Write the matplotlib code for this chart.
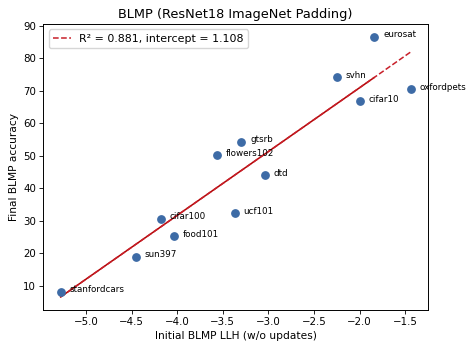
import numpy as np
import matplotlib
matplotlib.use("Agg")
import matplotlib.pyplot as plt

# Initial LLH vs final accuracy per dataset
datasets = ["stanfordcars", "sun397", "cifar100", "food101", "flowers102", "ucf101",
            "gtsrb", "dtd", "svhn", "cifar10", "eurosat", "oxfordpets"]
init_llh = [-5.28, -4.455, -4.18, -4.04, -3.565, -3.37, -3.30, -3.04, -2.25, -2.0, -1.84, -1.44]
final_acc = [8.0, 18.9, 30.6, 25.2, 50.1, 32.2, 54.2, 44.0, 74.1, 66.7, 86.6, 70.5]
legend_label = "R\u00b2 = 0.881, intercept = 1.108"

x = np.array(init_llh)
y = np.array(final_acc)
slope, intercept = np.polyfit(x, y, 1)

fig, ax = plt.subplots(figsize=(4.74, 3.51), dpi=100)
fig.subplots_adjust(left=0.091, right=0.903, bottom=0.117, top=0.932)

ax.scatter(x, y, s=28, color="#3d6ba6", zorder=3)

# solid fit line (up to the second largest x) plus dashed fit across full range
xs_sorted = np.sort(x)
xs_solid = np.array([xs_sorted[0], xs_sorted[-2]])
ax.plot(xs_solid, slope * xs_solid + intercept, color="#b00000", lw=1.1, zorder=2)
xs_full = np.array([xs_sorted[0], xs_sorted[-1]])
ax.plot(xs_full, slope * xs_full + intercept, color="#c8202a", lw=1.1, ls="--",
        label=legend_label, zorder=2)

for name, xi, yi in zip(datasets, x, y):
    ax.annotate(name, (xi, yi), xytext=(6.5, 1.5), textcoords="offset points",
                fontsize=6.3, va="center", ha="left")

ax.set_title("BLMP (ResNet18 ImageNet Padding)", fontsize=9.3, pad=4.5)
ax.set_xlabel("Initial BLMP LLH (w/o updates)", fontsize=7.7, labelpad=3)
ax.set_ylabel("Final BLMP accuracy", fontsize=7.7, labelpad=3)
ax.tick_params(labelsize=7.4, length=2.6, width=0.6, pad=2.6)
for sp in ax.spines.values():
    sp.set_linewidth(0.7)
ax.legend(loc="upper left", fontsize=7.9, handlelength=1.6, borderpad=0.4)

fig.savefig("out.png", dpi=100)
